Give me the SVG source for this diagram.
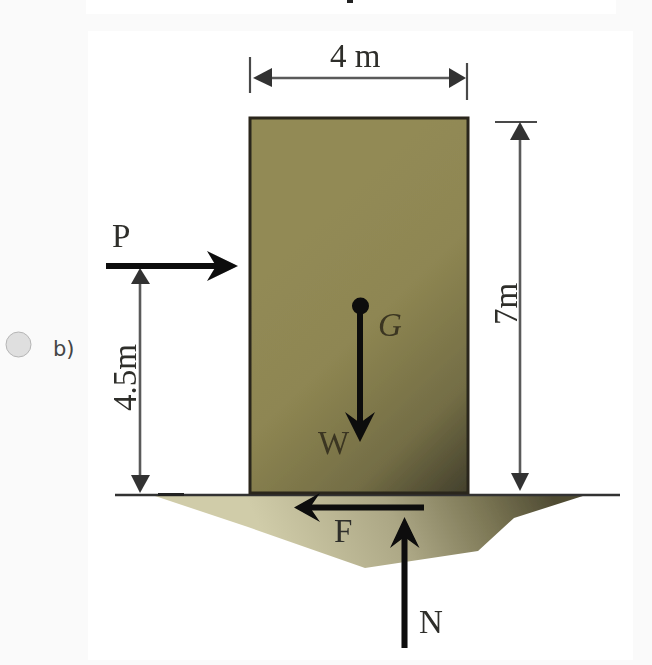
<svg xmlns="http://www.w3.org/2000/svg" width="652" height="665" viewBox="0 0 652 665">
<style>
.t{font-family:"Liberation Serif","Times New Roman",serif;font-size:33px;fill:#2e2e2a}
.dark{fill:#3a3520}
.dim{stroke:#5a5a5a;stroke-width:2.600;fill:none}
.tick{stroke:#4a4a4a;stroke-width:2.200;fill:none}
.force{stroke:#0a0a0a;stroke-width:6;fill:none}
.dh{fill:#333}
.fh{fill:#0a0a0a}
</style>
<defs>
<linearGradient id="blockGrad" gradientUnits="userSpaceOnUse" x1="270" y1="270" x2="480" y2="490">
<stop offset="0" stop-color="#928a55"/>
<stop offset="0.35" stop-color="#8e8652"/>
<stop offset="0.72" stop-color="#736d45"/>
<stop offset="1" stop-color="#3f3c2a"/>
</linearGradient>
<linearGradient id="soilGrad" gradientUnits="userSpaceOnUse" x1="290" y1="590" x2="540" y2="470">
<stop offset="0" stop-color="#d0cca9"/>
<stop offset="0.45" stop-color="#aba684"/>
<stop offset="0.75" stop-color="#7c7755"/>
<stop offset="1" stop-color="#4f4b33"/>
</linearGradient>
<filter id="soft" x="0" y="0" width="100%" height="100%" filterUnits="userSpaceOnUse" primitiveUnits="userSpaceOnUse"><feGaussianBlur stdDeviation="0.500"/></filter>
</defs>
<rect width="652" height="665" fill="#fafafa"/>
<rect x="86" y="0" width="530" height="14" fill="#fff"/>
<rect x="88" y="31" width="545" height="629" fill="#fff"/>
<rect x="347" y="0" width="6" height="3" fill="#222"/>
<g id="radio-option">
<circle cx="18.500" cy="344.500" r="12.500" fill="#dfdfdf" stroke="#b5b5b5" stroke-width="1"/>
<text x="53" y="356" font-family="'DejaVu Sans',sans-serif" font-size="21" fill="#444">b)</text>
</g>
<g id="figure" filter="url(#soft)">
<g id="ground">
<path d="M152 495H586L514 518L478 551L365 568L248 527Z" fill="url(#soilGrad)"/>
<path d="M115 495H620" stroke="#333" stroke-width="2.500" fill="none"/>
<path d="M158 494.500H184" stroke="#222" stroke-width="3" fill="none"/>
</g>
<g id="block">
<rect x="250" y="118" width="218" height="375" fill="url(#blockGrad)" stroke="#29261a" stroke-width="3"/>
</g>
<g id="connectors">
<g id="dim-4m">
<path class="tick" d="M250 57V93"/>
<path class="tick" d="M467 63V100"/>
<path class="dim" d="M265 78H455"/>
<path class="dh" d="M253 78L272 68V87Z"/>
<path class="dh" d="M466 78L449 68V88Z"/>
</g>
<g id="dim-7m">
<path class="tick" d="M495 122H537"/>
<path class="dim" d="M520 132V478"/>
<path class="dh" d="M520 122L510 140H530Z"/>
<path class="dh" d="M520 491L511 473H529Z"/>
</g>
<g id="dim-4-5m">
<path class="dim" d="M140 280V480"/>
<path class="dh" d="M140 268L131 284H150Z"/>
<path class="dh" d="M140 493L131 475H150Z"/>
</g>
<g id="force-P">
<path class="force" d="M106 266H226"/>
<path class="fh" d="M238 266L207 251L216 266L207 281Z"/>
</g>
<g id="force-W">
<path class="force" d="M360 306V430"/>
<path class="fh" d="M360 442L345 412L360 423L375 412Z"/>
</g>
<g id="force-F">
<path class="force" d="M305 507.500H424"/>
<path class="fh" d="M294 507.500L320 493L310 507.500L320 522Z"/>
</g>
<g id="force-N">
<path class="force" d="M404.500 535V648"/>
<path class="fh" d="M404.500 517L390 548L404.500 537L419.500 548Z"/>
</g>
</g>
<g id="node-G">
<circle cx="360.500" cy="306" r="8.500" fill="#0a0a0a"/>
<text class="t dark" x="378" y="336" font-style="italic">G</text>
</g>
<g id="labels">
<text class="t" x="330" y="67">4 m</text>
<text class="t" x="112" y="247">P</text>
<text class="t dark" x="318" y="454">W</text>
<text class="t" x="334" y="542">F</text>
<text class="t" x="419" y="633">N</text>
<text class="t" transform="translate(136 411) rotate(-90)">4.5m</text>
<text class="t" transform="translate(517 325) rotate(-90)">7m</text>
</g>
</g>
</svg>
